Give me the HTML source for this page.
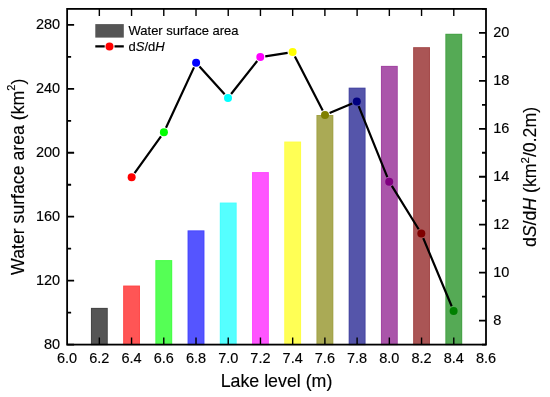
<!DOCTYPE html><html><head><meta charset="utf-8"><style>html,body{margin:0;padding:0;background:#fff;width:550px;height:397px;overflow:hidden}svg{display:block}text{stroke:#000;stroke-width:0.15px}</style></head><body>
<svg width="550" height="397" viewBox="0 0 550 397" font-family="'Liberation Sans', Arial, sans-serif">
<rect x="90.94" y="307.90" width="16.8" height="36.70" fill="#555555"/>
<rect x="91.44" y="308.40" width="15.8" height="36.70" fill="none" stroke="#000000" stroke-opacity="0.18" stroke-width="1"/>
<rect x="123.16" y="285.60" width="16.8" height="59.00" fill="#FF5555"/>
<rect x="123.66" y="286.10" width="15.8" height="59.00" fill="none" stroke="#FF0000" stroke-opacity="0.18" stroke-width="1"/>
<rect x="155.38" y="260.10" width="16.8" height="84.50" fill="#55FF55"/>
<rect x="155.88" y="260.60" width="15.8" height="84.50" fill="none" stroke="#00FF00" stroke-opacity="0.18" stroke-width="1"/>
<rect x="187.61" y="230.40" width="16.8" height="114.20" fill="#5555FF"/>
<rect x="188.11" y="230.90" width="15.8" height="114.20" fill="none" stroke="#0000FF" stroke-opacity="0.18" stroke-width="1"/>
<rect x="219.83" y="202.60" width="16.8" height="142.00" fill="#55FFFF"/>
<rect x="220.33" y="203.10" width="15.8" height="142.00" fill="none" stroke="#00FFFF" stroke-opacity="0.18" stroke-width="1"/>
<rect x="252.05" y="172.10" width="16.8" height="172.50" fill="#FF55FF"/>
<rect x="252.55" y="172.60" width="15.8" height="172.50" fill="none" stroke="#FF00FF" stroke-opacity="0.18" stroke-width="1"/>
<rect x="284.27" y="141.60" width="16.8" height="203.00" fill="#FFFF55"/>
<rect x="284.77" y="142.10" width="15.8" height="203.00" fill="none" stroke="#FFFF00" stroke-opacity="0.18" stroke-width="1"/>
<rect x="316.49" y="115.00" width="16.8" height="229.60" fill="#AAAA55"/>
<rect x="316.99" y="115.50" width="15.8" height="229.60" fill="none" stroke="#808000" stroke-opacity="0.18" stroke-width="1"/>
<rect x="348.71" y="87.70" width="16.8" height="256.90" fill="#5555AA"/>
<rect x="349.21" y="88.20" width="15.8" height="256.90" fill="none" stroke="#000080" stroke-opacity="0.18" stroke-width="1"/>
<rect x="380.94" y="65.90" width="16.8" height="278.70" fill="#AA55AA"/>
<rect x="381.44" y="66.40" width="15.8" height="278.70" fill="none" stroke="#800080" stroke-opacity="0.18" stroke-width="1"/>
<rect x="413.16" y="47.20" width="16.8" height="297.40" fill="#AA5555"/>
<rect x="413.66" y="47.70" width="15.8" height="297.40" fill="none" stroke="#800000" stroke-opacity="0.18" stroke-width="1"/>
<rect x="445.38" y="33.80" width="16.8" height="310.80" fill="#55AA55"/>
<rect x="445.88" y="34.30" width="15.8" height="310.80" fill="none" stroke="#008000" stroke-opacity="0.18" stroke-width="1"/>
<path d="M134.57 173.14L160.98 136.36M166.00 127.76L194.00 67.39M199.47 66.55L224.63 94.20M231.10 93.98L257.20 61.02M265.24 56.34L287.66 52.86M294.89 56.54L322.71 110.56M329.60 113.05L352.20 103.45M358.67 106.14L387.33 177.06M391.83 185.95L418.67 229.25M423.23 238.11L451.67 306.29" stroke="#000" stroke-width="2.2" fill="none"/>
<circle cx="131.65" cy="177.2" r="4.0" fill="#FF0000"/>
<circle cx="163.9" cy="132.3" r="4.0" fill="#00FF00"/>
<circle cx="196.1" cy="62.85" r="4.0" fill="#0000FF"/>
<circle cx="228.0" cy="97.9" r="4.0" fill="#00FFFF"/>
<circle cx="260.3" cy="57.1" r="4.0" fill="#FF00FF"/>
<circle cx="292.6" cy="52.1" r="4.0" fill="#FFFF00"/>
<circle cx="325.0" cy="115.0" r="4.0" fill="#808000"/>
<circle cx="356.8" cy="101.5" r="4.0" fill="#000080"/>
<circle cx="389.2" cy="181.7" r="4.0" fill="#800080"/>
<circle cx="421.3" cy="233.5" r="4.0" fill="#800000"/>
<circle cx="453.6" cy="310.9" r="4.0" fill="#008000"/>
<rect x="67.12" y="8.90" width="418.88" height="335.70" fill="none" stroke="#000" stroke-width="1.8"/>
<path d="M67.12 344.60H74.12M67.12 312.63H71.12M67.12 280.66H74.12M67.12 248.69H71.12M67.12 216.71H74.12M67.12 184.74H71.12M67.12 152.77H74.12M67.12 120.80H71.12M67.12 88.83H74.12M67.12 56.86H71.12M67.12 24.89H74.12M486.0 344.60H482.0M486.0 320.62H479.0M486.0 296.64H482.0M486.0 272.66H479.0M486.0 248.69H482.0M486.0 224.71H479.0M486.0 200.73H482.0M486.0 176.75H479.0M486.0 152.77H482.0M486.0 128.79H479.0M486.0 104.81H482.0M486.0 80.84H479.0M486.0 56.86H482.0M486.0 32.88H479.0M486.0 8.90H482.0" stroke="#000" stroke-width="1.8" fill="none"/>
<path d="M99.34 344.6V337.6M99.34 8.9V15.9M131.56 344.6V337.6M131.56 8.9V15.9M163.78 344.6V337.6M163.78 8.9V15.9M196.01 344.6V337.6M196.01 8.9V15.9M228.23 344.6V337.6M228.23 8.9V15.9M260.45 344.6V337.6M260.45 8.9V15.9M292.67 344.6V337.6M292.67 8.9V15.9M324.89 344.6V337.6M324.89 8.9V15.9M357.11 344.6V337.6M357.11 8.9V15.9M389.34 344.6V337.6M389.34 8.9V15.9M421.56 344.6V337.6M421.56 8.9V15.9M453.78 344.6V337.6M453.78 8.9V15.9" stroke="#000" stroke-width="1.4" fill="none"/>
<text x="60.2" y="348.90" font-size="14.5" text-anchor="end">80</text>
<text x="60.2" y="284.96" font-size="14.5" text-anchor="end">120</text>
<text x="60.2" y="221.01" font-size="14.5" text-anchor="end">160</text>
<text x="60.2" y="157.07" font-size="14.5" text-anchor="end">200</text>
<text x="60.2" y="93.13" font-size="14.5" text-anchor="end">240</text>
<text x="60.2" y="29.19" font-size="14.5" text-anchor="end">280</text>
<text x="67.12" y="362.8" font-size="14.5" text-anchor="middle">6.0</text>
<text x="99.34" y="362.8" font-size="14.5" text-anchor="middle">6.2</text>
<text x="131.56" y="362.8" font-size="14.5" text-anchor="middle">6.4</text>
<text x="163.78" y="362.8" font-size="14.5" text-anchor="middle">6.6</text>
<text x="196.01" y="362.8" font-size="14.5" text-anchor="middle">6.8</text>
<text x="228.23" y="362.8" font-size="14.5" text-anchor="middle">7.0</text>
<text x="260.45" y="362.8" font-size="14.5" text-anchor="middle">7.2</text>
<text x="292.67" y="362.8" font-size="14.5" text-anchor="middle">7.4</text>
<text x="324.89" y="362.8" font-size="14.5" text-anchor="middle">7.6</text>
<text x="357.11" y="362.8" font-size="14.5" text-anchor="middle">7.8</text>
<text x="389.34" y="362.8" font-size="14.5" text-anchor="middle">8.0</text>
<text x="421.56" y="362.8" font-size="14.5" text-anchor="middle">8.2</text>
<text x="453.78" y="362.8" font-size="14.5" text-anchor="middle">8.4</text>
<text x="486.00" y="362.8" font-size="14.5" text-anchor="middle">8.6</text>
<text x="493.2" y="325.12" font-size="14.5">8</text>
<text x="493.2" y="277.16" font-size="14.5">10</text>
<text x="493.2" y="229.21" font-size="14.5">12</text>
<text x="493.2" y="181.25" font-size="14.5">14</text>
<text x="493.2" y="133.29" font-size="14.5">16</text>
<text x="493.2" y="85.34" font-size="14.5">18</text>
<text x="493.2" y="37.38" font-size="14.5">20</text>
<text x="276.5" y="386.6" font-size="17.8" text-anchor="middle">Lake level (m)</text>
<text transform="translate(23.5,176.8) rotate(-90)" font-size="17.7" text-anchor="middle">Water surface area (km<tspan font-size="11" dy="-8.9">2</tspan><tspan dy="8.9">)</tspan></text>
<text transform="translate(536.4,177.0) rotate(-90)" font-size="17.7" text-anchor="middle">d<tspan font-style="italic">S</tspan>/d<tspan font-style="italic">H</tspan> (km<tspan font-size="11.6" dy="-7.8">2</tspan><tspan dy="7.8">/0.2m)</tspan></text>
<rect x="95.3" y="24.1" width="28.5" height="13.5" fill="#555555"/>
<path d="M95.3 46.4H104.7M114.5 46.4H123.8" stroke="#000" stroke-width="2.2"/>
<circle cx="109.5" cy="46.4" r="4" fill="#FF0000"/>
<text x="128.5" y="35" font-size="13">Water surface area</text>
<text x="128.5" y="50.7" font-size="13">d<tspan font-style="italic">S</tspan>/d<tspan font-style="italic">H</tspan></text>
</svg></body></html>
